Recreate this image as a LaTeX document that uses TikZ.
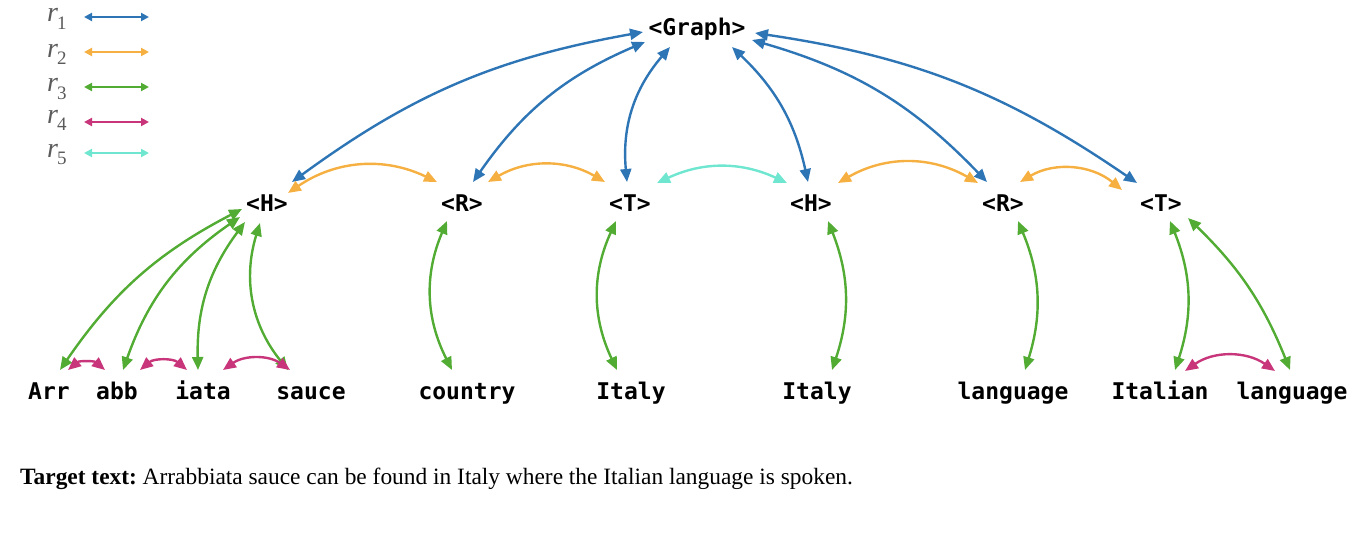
\documentclass[tikz,border=0pt]{standalone}
\usepackage{fontspec}
\setmainfont{Liberation Serif}
\newfontfamily\monob{DejaVu Sans Mono}
\usetikzlibrary{arrows.meta}
\definecolor{cblue}{RGB}{46,117,182}
\definecolor{corange}{RGB}{245,176,65}
\definecolor{cgreen}{RGB}{82,172,52}
\definecolor{cmag}{RGB}{200,53,122}
\definecolor{ccyan}{RGB}{110,230,208}
\definecolor{cgray}{RGB}{90,90,90}
\tikzset{
  lbl/.style={font=\monob\bfseries\fontsize{23}{26}\selectfont, inner sep=0pt, anchor=base},
  rel/.style={line width=2.4pt, {Triangle[length=13pt,width=11pt]}-{Triangle[length=13pt,width=11pt]}},
  legarr/.style={line width=2pt, {Triangle[length=8pt,width=8pt]}-{Triangle[length=8pt,width=8pt]}},
  legtxt/.style={font=\fontsize{28}{30}\selectfont, text=cgray, inner sep=0pt, anchor=base west},
  r1/.style={rel, draw=cblue},
  r2/.style={rel, draw=corange},
  r3/.style={rel, draw=cgreen},
  r4/.style={rel, draw=cmag},
  r5/.style={rel, draw=ccyan},
}
\begin{document}
\begin{tikzpicture}[x=1pt,y=-1pt]
\useasboundingbox (0,0) rectangle (1370,535);
% legend
\foreach \i/\yb/\ya/\c in {1/22/17/cblue,2/57/52/corange,3/92/87/cgreen,4/123/122/cmag,5/157/153/ccyan}{
  \node[legtxt] (lt\i) at (47,\yb) {\itshape r\kern-1pt\raisebox{-0.27em}{\fontsize{19}{21}\selectfont\upshape\i}};
  \coordinate (la\i) at (84,\ya);
  \coordinate (lb\i) at (149,\ya);
  \draw[legarr, draw=\c] (la\i) -- (lb\i);
}
% nodes
\node[lbl] (G) at (697,36) {<Graph>};
\node[lbl] (H1) at (267,211) {<H>};
\node[lbl] (R1) at (462,211) {<R>};
\node[lbl] (T1) at (630,211) {<T>};
\node[lbl] (H2) at (811,211) {<H>};
\node[lbl] (R2) at (1003,211) {<R>};
\node[lbl] (T2) at (1161,211) {<T>};
\node[lbl] (Arr) at (49,399) {Arr};
\node[lbl] (abb) at (117,399) {abb};
\node[lbl] (iata) at (203,399) {iata};
\node[lbl] (sauce) at (311,399) {sauce};
\node[lbl] (country) at (467,399) {country};
\node[lbl] (It1) at (631,399) {Italy};
\node[lbl] (It2) at (817,399) {Italy};
\node[lbl] (lang1) at (1013,399) {language};
\node[lbl] (Itn) at (1160,399) {Italian};
\node[lbl] (lang2) at (1292,399) {language};
\node[font=\fontsize{23.4}{26}\selectfont, inner sep=0pt, anchor=base west] (tt) at (20,484) {\textbf{Target text:}\kern-2pt{} Arrabbiata sauce can be found in Italy where the Italian language is spoken.};
% r1 blue
\draw[r1] ([shift={(-54,-4)}]G.base) to[bend right=13] ([shift={(25,-29)}]H1.base);
\draw[r1] ([shift={(-52,6)}]G.base) to[bend right=16] ([shift={(11,-29)}]R1.base);
\draw[r1] ([shift={(-27,11)}]G.base) to[bend right=23] ([shift={(-3,-29)}]T1.base);
\draw[r1] ([shift={(35,11)}]G.base) to[bend left=17] ([shift={(-3,-29)}]H2.base);
\draw[r1] ([shift={(55,4)}]G.base) to[bend left=15] ([shift={(-16,-29)}]R2.base);
\draw[r1] ([shift={(58,-3)}]G.base) to[bend left=13] ([shift={(-24,-28)}]T2.base);
% r2 orange
\draw[r2] ([shift={(21,-18)}]H1.base) to[bend left=30] ([shift={(-25,-29)}]R1.base);
\draw[r2] ([shift={(26,-29)}]R1.base) to[bend left=30] ([shift={(-25,-29)}]T1.base);
\draw[r2] ([shift={(27,-28)}]H2.base) to[bend left=30] ([shift={(-25,-28)}]R2.base);
\draw[r2] ([shift={(17,-29)}]R2.base) to[bend left=35] ([shift={(-39,-21)}]T2.base);
% r5 cyan
\draw[r5] ([shift={(27,-28)}]T1.base) to[bend left=25] ([shift={(-24,-28)}]H2.base);
% r3 green
\draw[r3] ([shift={(-25,-2)}]H1.base) to[bend right=14] ([shift={(11,-29)}]Arr.base);
\draw[r3] ([shift={(-27,6)}]H1.base) to[bend right=18] ([shift={(6,-29)}]abb.base);
\draw[r3] ([shift={(-22,11)}]H1.base) to[bend right=19] ([shift={(-5,-29)}]iata.base);
\draw[r3] ([shift={(-7,12)}]H1.base) to[bend right=28] ([shift={(-23,-29)}]sauce.base);
\draw[r3] ([shift={(-15,10)}]R1.base) to[bend right=25] ([shift={(-15,-29)}]country.base);
\draw[r3] ([shift={(-14,10)}]T1.base) to[bend right=25] ([shift={(-14,-29)}]It1.base);
\draw[r3] ([shift={(17,10)}]H2.base) to[bend left=20] ([shift={(15,-29)}]It2.base);
\draw[r3] ([shift={(15,10)}]R2.base) to[bend left=20] ([shift={(12,-29)}]lang1.base);
\draw[r3] ([shift={(9,10)}]T2.base) to[bend left=20] ([shift={(15,-29)}]Itn.base);
\draw[r3] ([shift={(27,7)}]T2.base) to[bend left=12] ([shift={(-2,-29)}]lang2.base);
% r4 magenta
\draw[r4] ([shift={(19,-29)}]Arr.base) to[bend left=40] ([shift={(-12,-29)}]abb.base);
\draw[r4] ([shift={(23,-29)}]abb.base) to[bend left=40] ([shift={(-16,-29)}]iata.base);
\draw[r4] ([shift={(20,-29)}]iata.base) to[bend left=35] ([shift={(-21,-29)}]sauce.base);
\draw[r4] ([shift={(25,-28)}]Itn.base) to[bend left=35] ([shift={(-17,-28)}]lang2.base);
\end{tikzpicture}
\end{document}
